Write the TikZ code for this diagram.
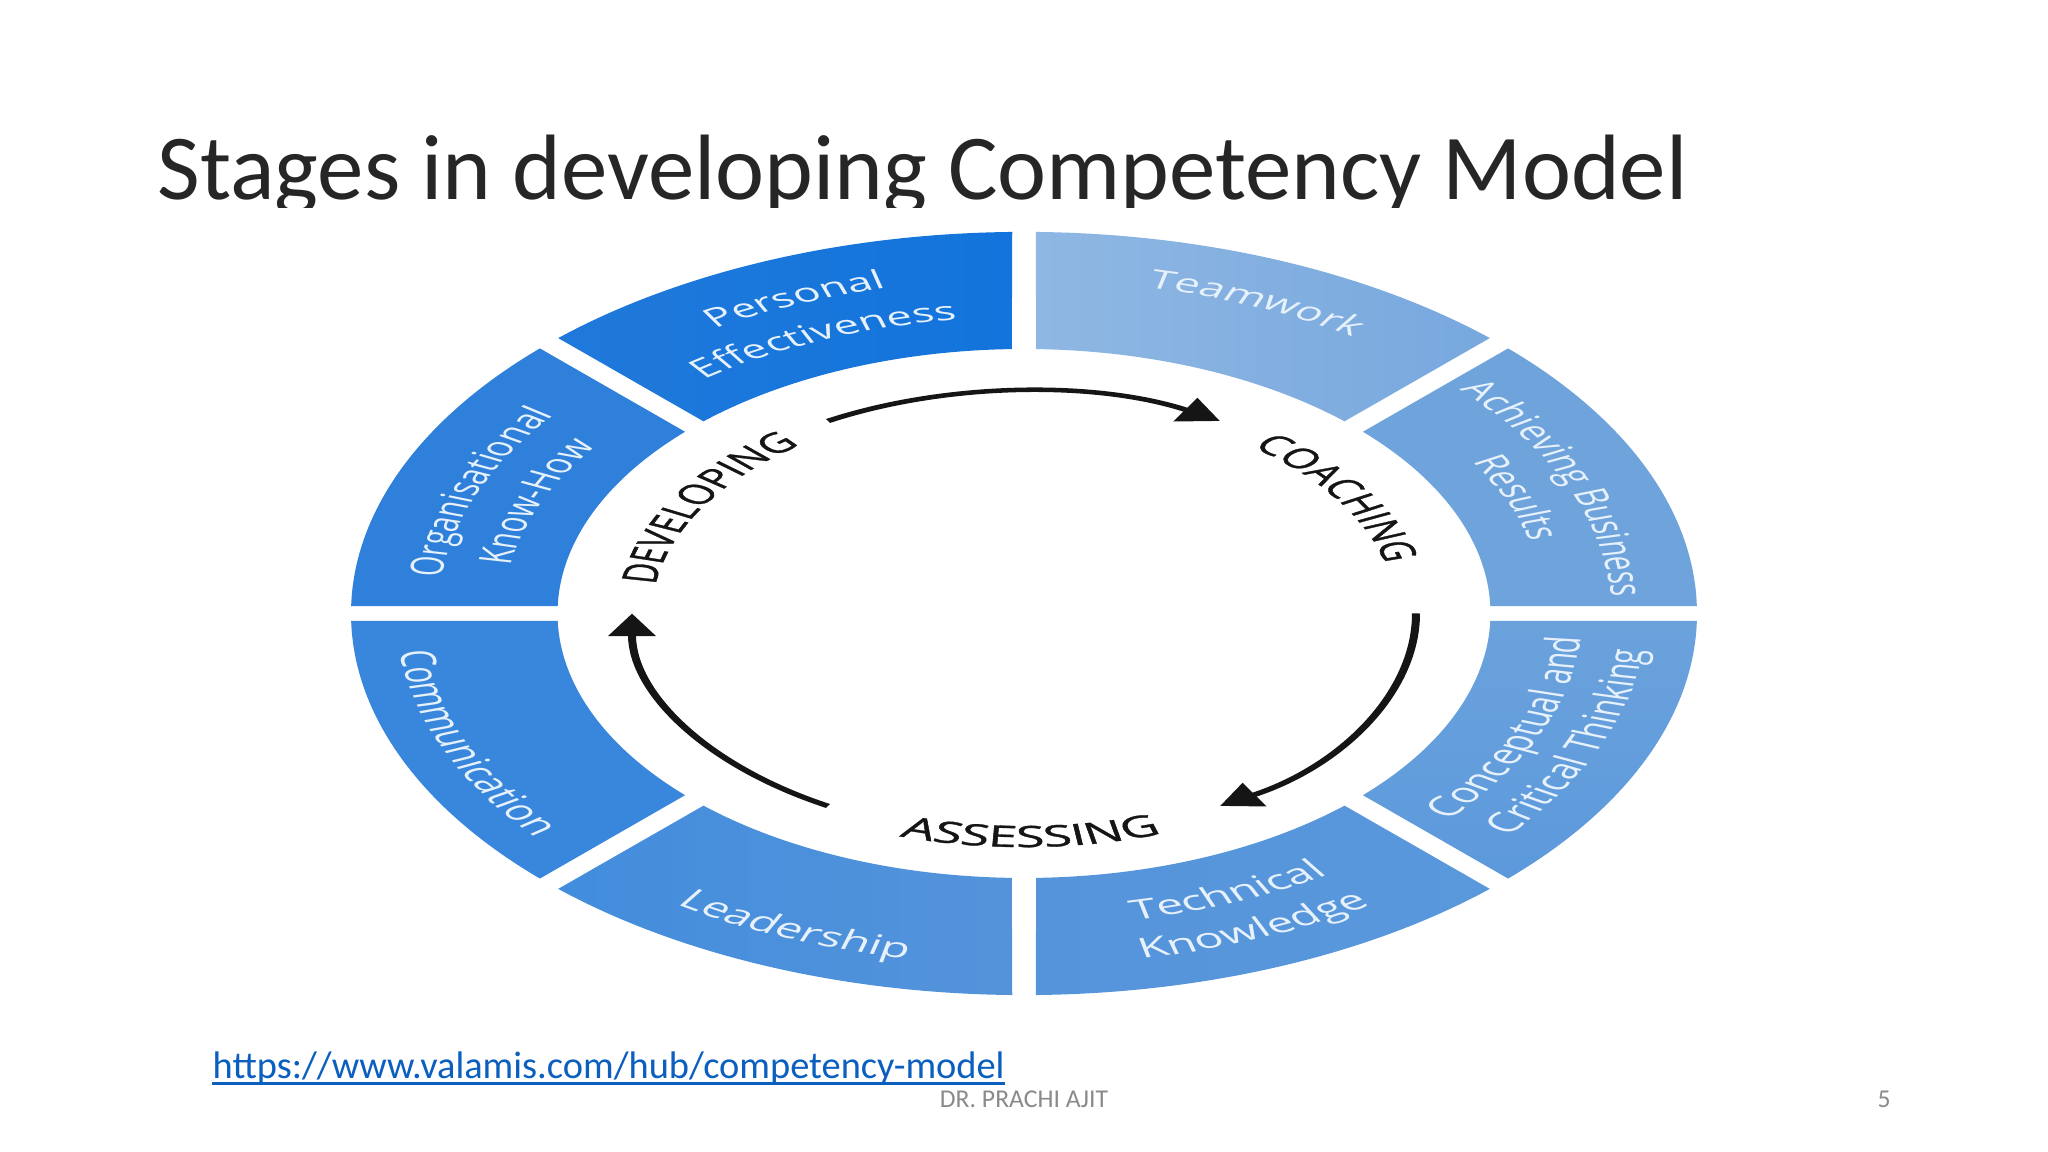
\documentclass[tikz,border=0pt]{standalone}
\usepackage{fontspec}
\setmainfont{Carlito}
\newfontfamily\ringfont{Open Sans}
\newfontfamily\stagefont[FakeBold=1]{Open Sans}
\usetikzlibrary{arrows.meta,decorations.text}
\definecolor{titleink}{HTML}{262626}
\definecolor{linkblue}{HTML}{0B5FBF}
\definecolor{footgrey}{HTML}{8A8A8A}
\definecolor{labelink}{HTML}{E6F1FB}
\definecolor{stageink}{HTML}{151515}
\tikzset{
  seglabel/.style={decorate, decoration={text along path, text align=center, text={|\ringfont\fontsize{13}{15}\selectfont\color{labelink}|#1}}},
  lowlabel/.style={decorate, decoration={text along path, text align=center, text={|\ringfont\fontsize{13.8}{16}\selectfont\color{labelink}|#1}}},
  stagelabel/.style={decorate, decoration={text along path, text align=center, text={|\stagefont\fontsize{13.7}{16}\selectfont\color{stageink}|#1}}},
  stagewide/.style={decorate, decoration={text along path, text align=center, text={|\stagefont\fontsize{14.8}{16}\selectfont\color{stageink}|#1}}},
  cyclearrow/.style={draw=stageink, line width=0.08cm, -{Triangle[length=0.40cm,width=0.46cm]}},
}
\begin{document}
\begin{tikzpicture}
    \useasboundingbox (0,0) rectangle (20.48,11.52);
    \fill[white] (0,0) rectangle (20.48,11.52);

    \node[anchor=base west, inner sep=0, text=titleink, font=\fontsize{26.43}{30}\selectfont] (title) at (1.57,9.52) {Stages in developing Competency Model};
    % the picture cuts off the bottom of the title
    \fill[white] (1.5,9.44) rectangle (18.5,9.0);

    \begin{scope}[transform canvas={shift={(10.24,5.385)},yscale=0.567}]
        % ring, top half
        \shade[left color={rgb,255:red,32;green,121;blue,218}, right color={rgb,255:red,18;green,116;blue,220}] (91:6.73) arc (91:133.8:6.73) -- (133.4:4.665) arc (133.4:91.5:4.665) -- cycle;
        \shade[left color={rgb,255:red,143;green,183;blue,227}, right color={rgb,255:red,119;green,168;blue,222}] (89:6.73) arc (89:46.2:6.73) -- (46.6:4.665) arc (46.6:88.5:4.665) -- cycle;
        \fill[fill={rgb,255:red,47;green,128;blue,218}] (136:6.73) arc (136:178.9:6.73) -- (178.4:4.665) arc (178.4:136.6:4.665) -- cycle;
        \fill[fill={rgb,255:red,111;green,163;blue,220}] (44:6.73) arc (44:1.1:6.73) -- (1.6:4.665) arc (1.6:43.4:4.665) -- cycle;
        % ring, bottom half
        \fill[fill={rgb,255:red,56;green,135;blue,220}] (181.1:6.73) arc (181.1:224:6.73) -- (223.4:4.665) arc (223.4:181.6:4.665) -- cycle;
        \shade[left color={rgb,255:red,66;green,141;blue,221}, right color={rgb,255:red,84;green,147;blue,218}] (226.2:6.73) arc (226.2:269:6.73) -- (268.5:4.665) arc (268.5:226.6:4.665) -- cycle;
        \shade[left color={rgb,255:red,85;green,148;blue,219}, right color={rgb,255:red,90;green,152;blue,220}] (271:6.73) arc (271:313.8:6.73) -- (313.4:4.665) arc (313.4:271.5:4.665) -- cycle;
        \shade[bottom color={rgb,255:red,92;green,153;blue,220}, top color={rgb,255:red,107;green,162;blue,220}] (316:6.73) arc (316:358.9:6.73) -- (358.4:4.665) arc (358.4:316.6:4.665) -- cycle;

        % labels on the ring
        \path[seglabel={Personal}] (134:5.9) arc (134:91:5.9);
        \path[seglabel={Effectiveness}] (134:5.22) arc (134:91:5.22);
        \path[seglabel={Teamwork}] (88.5:5.88) arc (88.5:45.5:5.88);
        \path[seglabel={Achieving Business}] (44:5.88) arc (44:1:5.88);
        \path[seglabel={Results}] (44:5.22) arc (44:1:5.22);
        \path[seglabel={Organisational}] (180:5.86) arc (180:137:5.86);
        \path[seglabel={Know-How}] (179.5:5.2) arc (179.5:136.5:5.2);
        \path[lowlabel={Communication}] (181:6.28) arc (181:224:6.28);
        \path[lowlabel={Leadership}] (226:6.2) arc (226:269:6.2);
        \path[lowlabel={Technical}] (271:5.52) arc (271:314:5.52);
        \path[lowlabel={Knowledge}] (271:6.2) arc (271:314:6.2);
        \path[lowlabel={Conceptual and}] (316:5.59) arc (316:359:5.59);
        \path[lowlabel={Critical Thinking}] (316:6.23) arc (316:359:6.23);

        % stages and arrows
        \path[stagelabel={DEVELOPING}] (175.5:3.72) arc (175.5:123.5:3.72);
        \path[stagelabel={COACHING}] (59:3.72) arc (59:7:3.72);
        \path[stagewide={ASSESSING}] (245:4.12) arc (245:297:4.12);
        \draw[cyclearrow] (120:3.92) arc (120:60:3.92);
        \draw[cyclearrow] (0:3.92) arc (0:-60:3.92);
        \draw[cyclearrow] (240:3.92) arc (240:180:3.92);
    \end{scope}

    \node[anchor=base west, inner sep=0, text=linkblue, font=\fontsize{10.93}{13}\selectfont] (link) at (2.12,0.73) {https://www.valamis.com/hub/competency-model};
    \draw[linkblue, line width=0.03cm] ([yshift=-0.045cm]link.base west) -- ([yshift=-0.045cm]link.base east);
    \node[inner sep=0, text=footgrey, font=\fontsize{7.3}{9}\selectfont] (footer) at (10.24,0.53) {DR. PRACHI AJIT};
    \node[inner sep=0, text=footgrey, font=\fontsize{7.3}{9}\selectfont] (pagenum) at (18.84,0.53) {5};
\end{tikzpicture}
\end{document}
